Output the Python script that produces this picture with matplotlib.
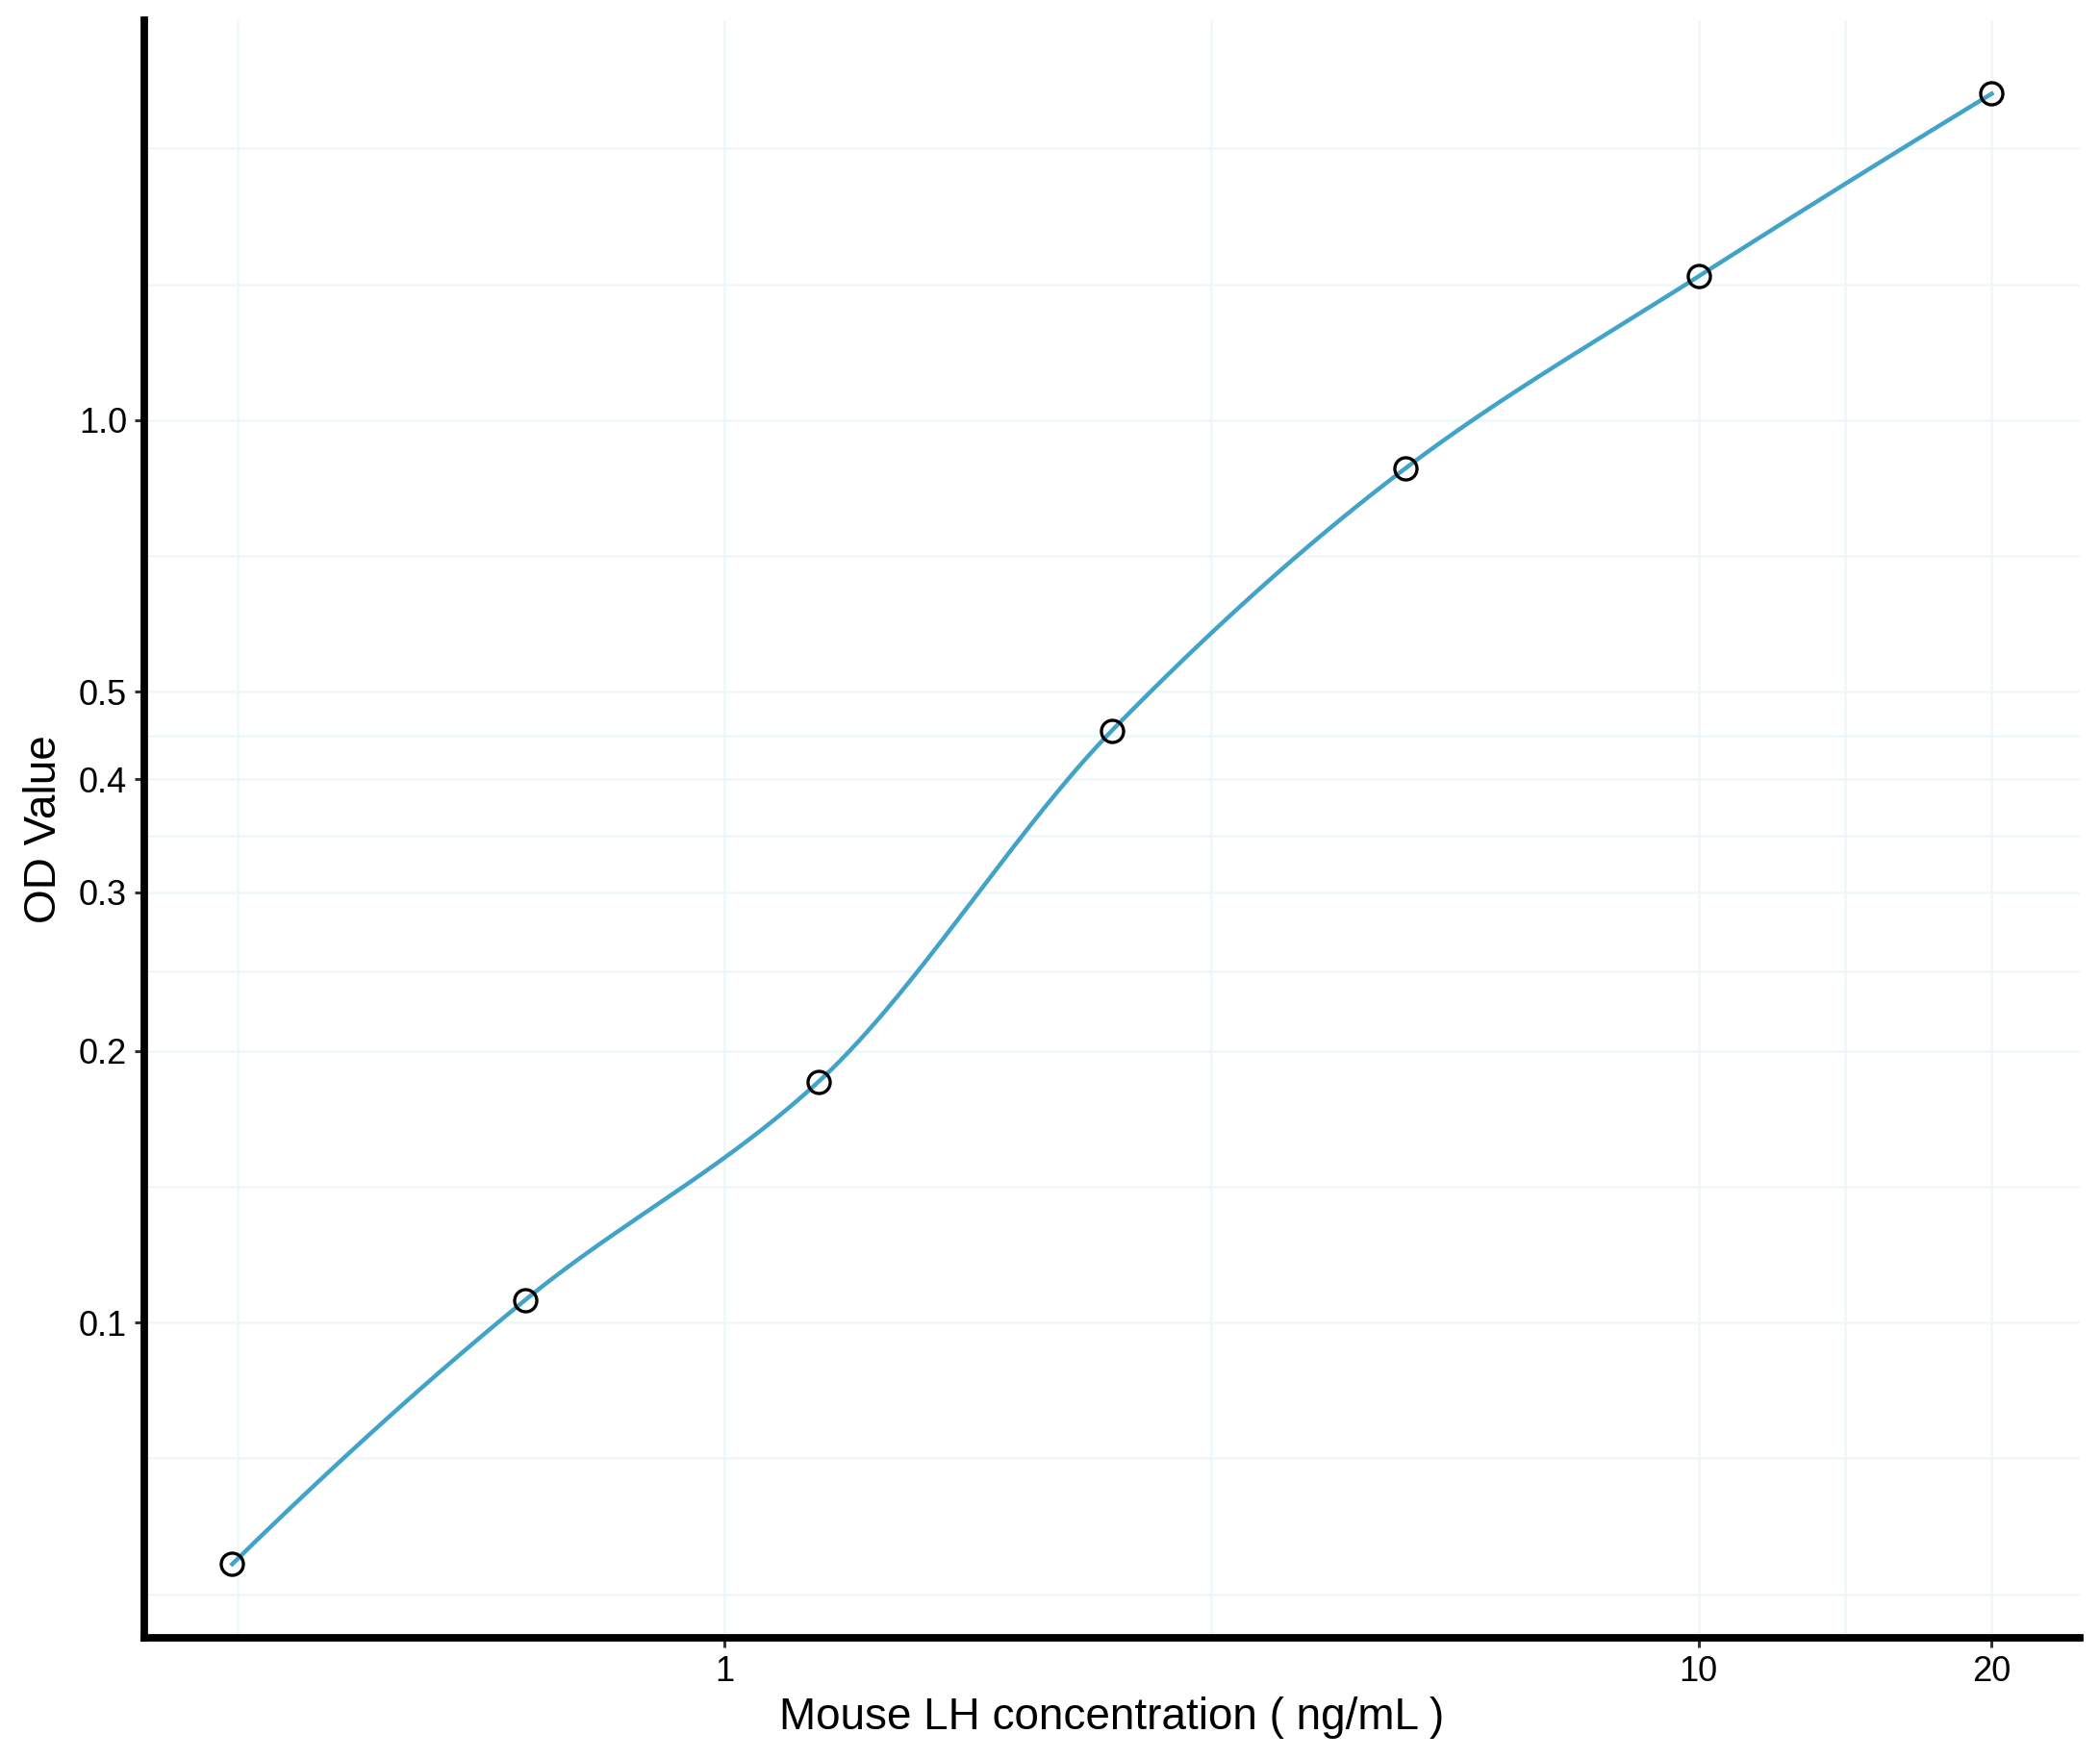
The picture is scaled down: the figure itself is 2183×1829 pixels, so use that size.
import numpy as np
import matplotlib
matplotlib.use("Agg")
import matplotlib.pyplot as plt

plt.rcParams['font.family'] = ['Liberation Sans', 'DejaVu Sans']

# standard curve readings (ng/mL vs OD)
concentration = [0.3125, 0.625, 1.25, 2.5, 5, 10, 20]
od_value = [0.054, 0.106, 0.185, 0.453, 0.884, 1.443, 2.30]

x_ticks = [1, 10, 20]
x_tick_labels = ["1", "10", "20"]
y_ticks = [0.1, 0.2, 0.3, 0.4, 0.5, 1.0]
y_tick_labels = ["0.1", "0.2", "0.3", "0.4", "0.5", "1.0"]

# grid breaks (major + minor, log scale)
x_grid = [0.1, 1, 10, 20]
y_grid = [0.05, 0.1, 0.2, 0.3, 0.4, 0.5, 1.0, 2.0]


def minor_between(breaks):
    lb = np.log10(breaks)
    return list(10 ** ((lb[:-1] + lb[1:]) / 2))


def pchip(xk, yk, xs):
    # monotone cubic hermite through the knots
    h = np.diff(xk)
    delta = np.diff(yk) / h
    n = len(xk)
    d = np.zeros(n)
    for i in range(1, n - 1):
        if delta[i - 1] * delta[i] > 0:
            w1 = 2 * h[i] + h[i - 1]
            w2 = h[i] + 2 * h[i - 1]
            d[i] = (w1 + w2) / (w1 / delta[i - 1] + w2 / delta[i])
    d[0] = ((2 * h[0] + h[1]) * delta[0] - h[0] * delta[1]) / (h[0] + h[1])
    d[-1] = ((2 * h[-1] + h[-2]) * delta[-1] - h[-1] * delta[-2]) / (h[-1] + h[-2])
    out = np.empty_like(xs)
    for j, xv in enumerate(xs):
        i = min(max(np.searchsorted(xk, xv) - 1, 0), n - 2)
        t = (xv - xk[i]) / h[i]
        h00 = 2 * t ** 3 - 3 * t ** 2 + 1
        h10 = t ** 3 - 2 * t ** 2 + t
        h01 = -2 * t ** 3 + 3 * t ** 2
        h11 = t ** 3 - t ** 2
        out[j] = (h00 * yk[i] + h10 * h[i] * d[i] + h01 * yk[i + 1]
                  + h11 * h[i] * d[i + 1])
    return out


lx = np.log10(concentration)
ly = np.log10(od_value)
xs = np.linspace(lx[0], lx[-1], 400)
ys = pchip(lx, ly, xs)

fig = plt.figure(figsize=(2183 / 200, 1829 / 200), dpi=200)
ax = fig.add_axes([0.0687, 0.0690, 0.9216, 0.9195])
ax.set_xscale('log')
ax.set_yscale('log')

grid_color = '#EEF8FB'
for g in x_grid + minor_between(x_grid):
    ax.axvline(g, color=grid_color, lw=0.9, zorder=0)
for g in y_grid + minor_between(y_grid):
    ax.axhline(g, color=grid_color, lw=0.9, zorder=0)

ax.plot(10 ** xs, 10 ** ys, color='#42A3C8', lw=1.6, zorder=2)
ax.plot(concentration, od_value, 'o', mfc='none', mec='black', mew=1.2,
        ms=8.3, zorder=3)

# ggplot-like 5% expansion in log space
xr = lx.max() - lx.min()
yr = ly.max() - ly.min()
ax.set_xlim(10 ** (lx.min() - 0.05 * xr), 10 ** (lx.max() + 0.05 * xr))
ax.set_ylim(10 ** (ly.min() - 0.05 * yr), 10 ** (ly.max() + 0.05 * yr))

ax.set_xticks(x_ticks)
ax.set_xticklabels(x_tick_labels)
ax.set_yticks(y_ticks)
ax.set_yticklabels(y_tick_labels)
ax.minorticks_off()
ax.tick_params(axis='both', length=3.5, width=1.1, color='#333333',
               labelsize=13, labelcolor='black', pad=3)

for s in ['top', 'right']:
    ax.spines[s].set_visible(False)
for s in ['left', 'bottom']:
    ax.spines[s].set_linewidth(2.8)
    ax.spines[s].set_color('black')
    ax.spines[s].set_capstyle('projecting')

ax.set_xlabel('Mouse LH concentration ( ng/mL )', fontsize=16.5, labelpad=3)
ax.set_ylabel('OD Value', fontsize=16.5, labelpad=5)

fig.savefig('out.png', dpi=200)
